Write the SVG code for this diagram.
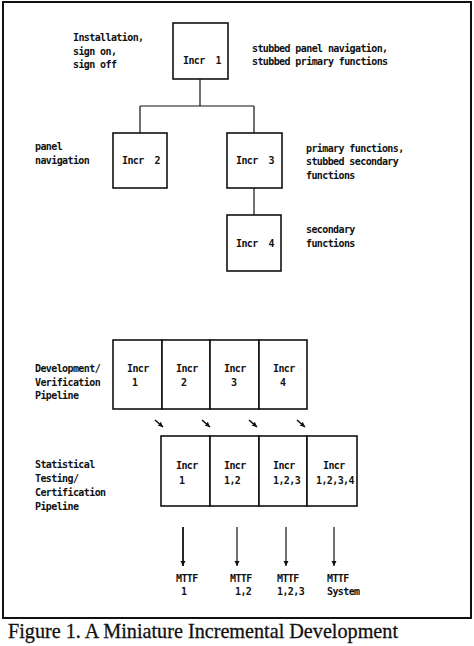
<svg xmlns="http://www.w3.org/2000/svg" width="474" height="646" viewBox="0 0 474 646">
<style>
.t{font-family:"DejaVu Sans Mono","Liberation Mono",monospace;font-size:10px;font-weight:bold;letter-spacing:-0.6px;fill:#111}
.box{fill:#fff;stroke:#111;stroke-width:1.6}
.ln{stroke:#111;stroke-width:1.2;fill:none}
.cap{font-family:"Liberation Serif","Times New Roman",serif;font-size:21px;fill:#111;stroke:#111;stroke-width:0.3}
</style>
<defs>
<marker id="ah" viewBox="0 0 10 10" refX="10" refY="5" markerWidth="5" markerHeight="6" orient="auto" markerUnits="userSpaceOnUse">
<path d="M0,0 L10,5 L0,10 z" fill="#111"/>
</marker>
<marker id="ah2" viewBox="0 0 10 10" refX="10" refY="5" markerWidth="5" markerHeight="5" orient="auto" markerUnits="userSpaceOnUse">
<path d="M0,0 L10,5 L0,10 z" fill="#111"/>
</marker>
</defs>
<rect x="0" y="0" width="474" height="646" fill="#fff"/>
<rect x="3" y="2" width="468" height="616" fill="none" stroke="#111" stroke-width="2"/>

<g id="connectors">
<path class="ln" d="M200,79 V106 M140,106 H254 M140,106 V133 M254,106 V133 M254,188 V215"/>
<g stroke="#111" stroke-width="1.6" marker-end="url(#ah2)">
<line x1="155" y1="420" x2="163" y2="427"/>
<line x1="202" y1="420" x2="210" y2="427"/>
<line x1="249" y1="420" x2="257" y2="427"/>
<line x1="297" y1="420" x2="305" y2="427"/>
</g>
<g stroke="#111" marker-end="url(#ah)">
<line x1="183" y1="527" x2="183" y2="566" stroke-width="1.8"/>
<line x1="237" y1="527" x2="237" y2="566" stroke-width="1.2"/>
<line x1="286" y1="527" x2="286" y2="566" stroke-width="1.2"/>
<line x1="334" y1="527" x2="334" y2="566" stroke-width="1.2"/>
</g>
</g>

<g id="incr1">
<rect class="box" x="173" y="23" width="55" height="56"/>
<text class="t" x="183" y="64" xml:space="preserve">Incr  1</text>
</g>
<g id="label-incr1-left">
<text class="t" x="73" y="41">Installation,</text>
<text class="t" x="73" y="55">sign on,</text>
<text class="t" x="73" y="68">sign off</text>
</g>
<g id="label-incr1-right">
<text class="t" x="252" y="52">stubbed panel navigation,</text>
<text class="t" x="252" y="65">stubbed primary functions</text>
</g>

<g id="incr2">
<rect class="box" x="113" y="133" width="54" height="55"/>
<text class="t" x="122" y="164" xml:space="preserve">Incr  2</text>
</g>
<g id="label-incr2">
<text class="t" x="35" y="150">panel</text>
<text class="t" x="35" y="164">navigation</text>
</g>

<g id="incr3">
<rect class="box" x="227" y="133" width="55" height="55"/>
<text class="t" x="236" y="164" xml:space="preserve">Incr  3</text>
</g>
<g id="label-incr3">
<text class="t" x="306" y="152">primary functions,</text>
<text class="t" x="306" y="165">stubbed secondary</text>
<text class="t" x="306" y="179">functions</text>
</g>

<g id="incr4">
<rect class="box" x="227" y="215" width="54" height="56"/>
<text class="t" x="236" y="247" xml:space="preserve">Incr  4</text>
</g>
<g id="label-incr4">
<text class="t" x="306" y="233">secondary</text>
<text class="t" x="306" y="247">functions</text>
</g>

<g id="dev-label">
<text class="t" x="35" y="372">Development/</text>
<text class="t" x="35" y="386">Verification</text>
<text class="t" x="35" y="399">Pipeline</text>
</g>
<g id="dev-pipeline">
<rect class="box" x="113" y="340" width="49" height="69"/>
<rect class="box" x="162" y="340" width="48" height="69"/>
<rect class="box" x="210" y="340" width="49" height="69"/>
<rect class="box" x="259" y="340" width="48" height="69"/>
<text class="t" x="127" y="372">Incr</text><text class="t" x="132" y="386">1</text>
<text class="t" x="176" y="372">Incr</text><text class="t" x="181" y="386">2</text>
<text class="t" x="224" y="372">Incr</text><text class="t" x="231" y="386">3</text>
<text class="t" x="273" y="372">Incr</text><text class="t" x="280" y="386">4</text>
</g>

<g id="cert-label">
<text class="t" x="35" y="468">Statistical</text>
<text class="t" x="35" y="482">Testing/</text>
<text class="t" x="35" y="496">Certification</text>
<text class="t" x="35" y="510">Pipeline</text>
</g>
<g id="cert-pipeline">
<rect class="box" x="161" y="436" width="49" height="70"/>
<rect class="box" x="210" y="436" width="49" height="70"/>
<rect class="box" x="259" y="436" width="48" height="70"/>
<rect class="box" x="307" y="436" width="50" height="70"/>
<text class="t" x="176" y="469">Incr</text><text class="t" x="179" y="484">1</text>
<text class="t" x="224" y="469">Incr</text><text class="t" x="224" y="484">1,2</text>
<text class="t" x="273" y="469">Incr</text><text class="t" x="273" y="484">1,2,3</text>
<text class="t" x="323" y="469">Incr</text><text class="t" x="316" y="484">1,2,3,4</text>
</g>

<g id="mttf">
<text class="t" x="176" y="582">MTTF</text><text class="t" x="181" y="595">1</text>
<text class="t" x="230" y="582">MTTF</text><text class="t" x="235" y="595">1,2</text>
<text class="t" x="277" y="582">MTTF</text><text class="t" x="277" y="595">1,2,3</text>
<text class="t" x="327" y="582">MTTF</text><text class="t" x="327" y="595">System</text>
</g>

<text class="cap" x="8" y="638" textLength="390" lengthAdjust="spacingAndGlyphs">Figure 1. A Miniature Incremental Development</text>
</svg>
